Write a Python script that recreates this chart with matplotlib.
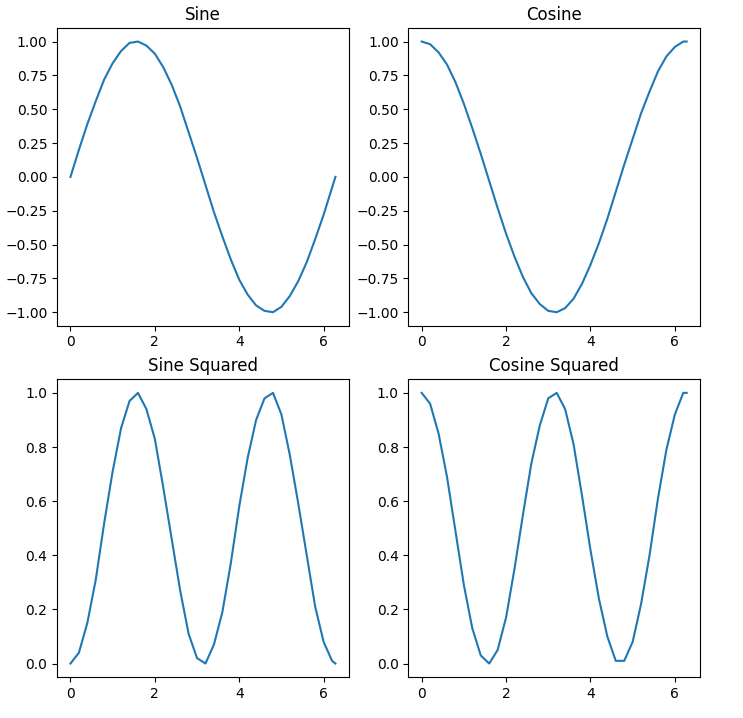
import matplotlib
matplotlib.use("Agg")
import matplotlib.pyplot as plt

# values at x = 0, 0.2, ..., 6.2, 6.28
x = [0.0, 0.2, 0.4, 0.6, 0.8, 1.0, 1.2, 1.4, 1.6, 1.8, 2.0, 2.2, 2.4, 2.6, 2.8, 3.0,
     3.2, 3.4, 3.6, 3.8, 4.0, 4.2, 4.4, 4.6, 4.8, 5.0, 5.2, 5.4, 5.6, 5.8, 6.0, 6.2, 6.28]
sine = [0.0, .20, .39, .56, .72, .84, .93, .99, 1.00, .97, .91, .81, .68, .52, .33, .14,
        -.06, -.26, -.44, -.61, -.76, -.87, -.95, -.99, -1.00, -.96, -.88, -.77, -.63, -.46, -.28, -.08, 0.0]
cosine = [1.0, .98, .92, .83, .70, .54, .36, .17, -.03, -.23, -.42, -.59, -.74, -.86, -.94, -.99,
          -1.00, -.97, -.90, -.79, -.65, -.49, -.31, -.11, .09, .28, .47, .63, .78, .89, .96, 1.00, 1.0]
sine_sq = [0.0, .04, .15, .31, .52, .71, .87, .97, 1.00, .94, .83, .65, .46, .27, .11, .02,
           .00, .07, .19, .37, .58, .76, .90, .98, 1.00, .92, .77, .59, .40, .21, .08, .01, 0.0]
cosine_sq = [1.0, .96, .85, .69, .49, .29, .13, .03, .00, .05, .17, .35, .55, .74, .88, .98,
             1.00, .94, .81, .62, .42, .24, .10, .01, .01, .08, .22, .40, .61, .79, .92, 1.00, 1.0]
titles = ["Sine", "Cosine", "Sine Squared", "Cosine Squared"]

fig, axes = plt.subplots(2, 2, figsize=(7.43, 7.18), dpi=100)
for ax, y, t in zip(axes.flat, [sine, cosine, sine_sq, cosine_sq], titles):
    ax.plot(x, y)
    ax.set_title(t)
fig.subplots_adjust(left=0.077, right=0.942, top=0.961, bottom=0.057, wspace=0.205, hspace=0.18)
fig.savefig("out.png", dpi=100)
